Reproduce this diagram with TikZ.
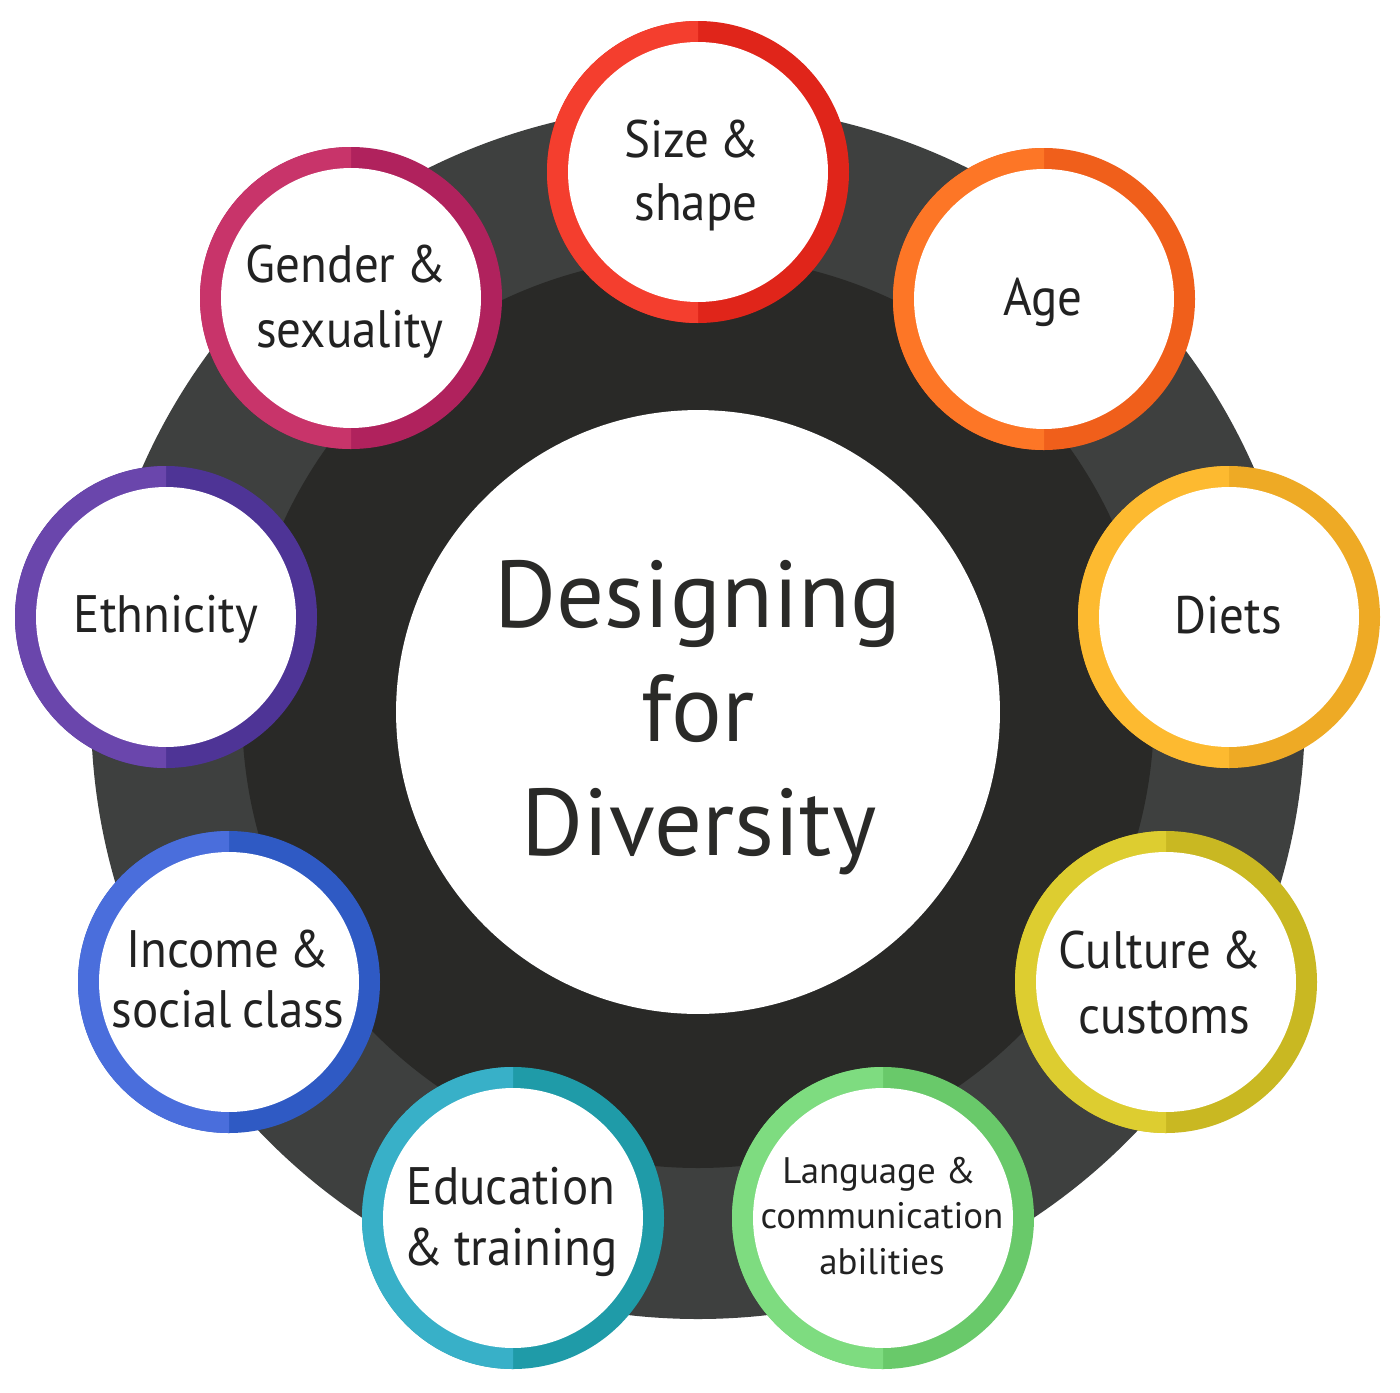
\documentclass[tikz,border=0pt]{standalone}
\usepackage{fontspec}
\setmainfont{PT Sans}
\newfontfamily\lblfont{PT Sans}[FakeStretch=0.93, WordSpace=0.8]
\definecolor{ringgray}{HTML}{3E403F}
\definecolor{innerdark}{HTML}{292927}
\definecolor{labelcol}{HTML}{222222}
\definecolor{titlecol}{HTML}{2A2A28}
\definecolor{sizeL}{HTML}{F43E2E}
\definecolor{sizeR}{HTML}{E0251A}
\definecolor{ageL}{HTML}{FD7626}
\definecolor{ageR}{HTML}{F05F1B}
\definecolor{dietsL}{HTML}{FDBA30}
\definecolor{dietsR}{HTML}{EEAA25}
\definecolor{cultL}{HTML}{DDCD30}
\definecolor{cultR}{HTML}{C9B822}
\definecolor{langL}{HTML}{7EDC80}
\definecolor{langR}{HTML}{69C96A}
\definecolor{eduL}{HTML}{38B0C8}
\definecolor{eduR}{HTML}{1F9BA8}
\definecolor{incL}{HTML}{4A6EDC}
\definecolor{incR}{HTML}{2F5AC4}
\definecolor{ethL}{HTML}{6A46AC}
\definecolor{ethR}{HTML}{4E3496}
\definecolor{genL}{HTML}{C8346A}
\definecolor{genR}{HTML}{B0225D}
\tikzset{
  whitedisc/.style={circle, fill=white, inner sep=0pt, minimum size=5.2cm},
  lbl/.style={anchor=base, inner sep=0pt, text=labelcol, font=\lblfont\fontsize{30}{36}\selectfont},
  smalllbl/.style={anchor=base, inner sep=0pt, text=labelcol, font=\fontsize{21}{25}\selectfont},
  titlelbl/.style={anchor=base, inner sep=0pt, text=titlecol, font=\fontsize{54}{65}\selectfont}
}
\begin{document}
\begin{tikzpicture}[x=0.02cm,y=-0.02cm]
\fill[white] (0,0) rectangle (1400,1393);
\useasboundingbox (0,0) rectangle (1400,1393);
% background rings
\fill[ringgray] (698,712) circle[radius=607];
\fill[innerdark] (698,712) circle[radius=456];
\node[circle, fill=white, inner sep=0pt, minimum size=12.08cm] (hub) at (698,712) {};
% satellite circles
\foreach \nm/\cx/\cy/\cl/\cr in {
  size/698/172/sizeL/sizeR,
  age/1044/299/ageL/ageR,
  diets/1229/617/dietsL/dietsR,
  culture/1166/982/cultL/cultR,
  language/883/1218/langL/langR,
  education/513/1218/eduL/eduR,
  income/229/982/incL/incR,
  ethnicity/166/617/ethL/ethR,
  gender/351/298/genL/genR}{
  \fill[\cr] (\cx,\cy) circle[radius=151];
  \begin{scope}
    \clip (\cx-160,\cy-160) rectangle (\cx,\cy+160);
    \fill[\cl] (\cx,\cy) circle[radius=151];
  \end{scope}
  \node[whitedisc] (\nm) at (\cx,\cy) {};
}
% title
\node[titlelbl] (title-a) at (698,627) {Designing};
\node[titlelbl] (title-b) at (698,741) {for};
\node[titlelbl] (title-c) at (699,855) {Diversity};
% labels
\node[lbl] (size-a) at (692,157) {Size \&};
\node[lbl] (size-b) at (696,220) {shape};
\node[lbl] (age-a) at (1043,315) {Age};
\node[lbl] (diets-a) at (1228,633) {Diets};
\node[lbl] (culture-a) at (1160,968) {Culture \&};
\node[lbl] (culture-b) at (1164,1033) {customs};
\node[smalllbl] (language-a) at (879,1183) {Language \&};
\node[smalllbl] (language-b) at (882,1228) {communication};
\node[smalllbl] (language-c) at (882,1274) {abilities};
\node[lbl] (education-a) at (511,1204) {Education};
\node[lbl] (education-b) at (511,1265) {\& training};
\node[lbl] (income-a) at (228,967) {Income \&};
\node[lbl] (income-b) at (228,1027) {social class};
\node[lbl] (ethnicity-a) at (166,632) {Ethnicity};
\node[lbl] (gender-a) at (346,282) {Gender \&};
\node[lbl] (gender-b) at (350,347) {sexuality};
\end{tikzpicture}
\end{document}
